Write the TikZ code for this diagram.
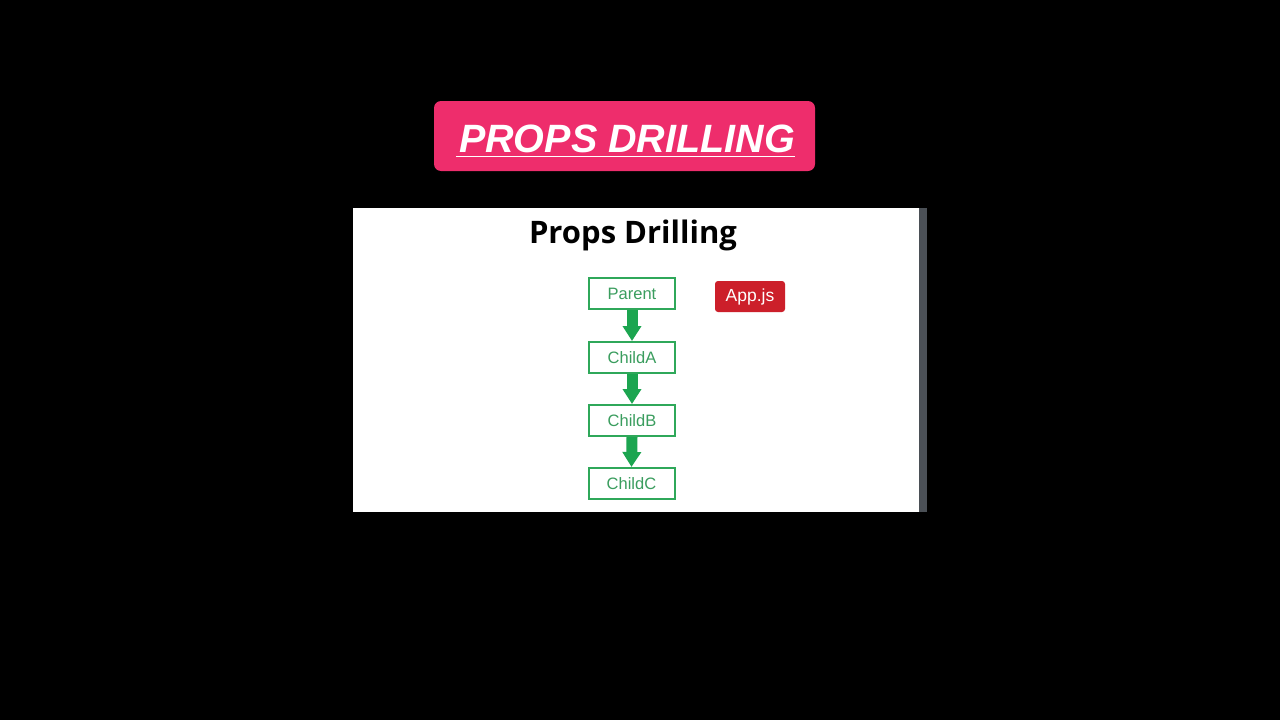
\documentclass[tikz,border=0pt]{standalone}
\usepackage{fontspec}
\setmainfont{Liberation Sans}
\newfontfamily\titlefont{Open Sans}
\usetikzlibrary{arrows.meta}
\definecolor{bannerpink}{HTML}{EE2D6C}
\definecolor{boxgreen}{HTML}{2FA85A}
\definecolor{txtgreen}{HTML}{3A9D5E}
\definecolor{arrgreen}{HTML}{1CA550}
\definecolor{appred}{HTML}{CC1F2A}
\definecolor{stripgray}{HTML}{4B5056}
\begin{document}
\begin{tikzpicture}[x=1pt,y=-1pt,
  compbox/.style={draw=boxgreen, line width=2pt, fill=white, minimum width=86pt, minimum height=31pt, inner sep=0pt, text=txtgreen, font=\fontsize{16.5}{19}\selectfont},
  flowarrow/.style={draw=arrgreen, line width=11pt, -{Triangle[width=18pt,length=15pt]}}]
\fill[black] (0,0) rectangle (1280,720);
\useasboundingbox (0,0) rectangle (1280,720);
% banner
\node[fill=bannerpink, rounded corners=7pt, minimum width=381pt, minimum height=70pt, inner sep=0pt] (banner) at (624.5,136) {};
\node[text=white, font=\fontsize{39.5}{43}\selectfont\bfseries\itshape, inner sep=0pt, anchor=base] (bannertext) at (627,152.5) {PROPS DRILLING};
\draw[white, line width=1.5pt] ([xshift=-3pt,yshift=-4pt]bannertext.base west) -- ([yshift=-4pt]bannertext.base east);
% panel
\fill[white] (353,208) rectangle (919,512);
\fill[stripgray] (919,208) rectangle (927,512);
\node[font=\titlefont\bfseries\fontsize{31}{34}\selectfont, text=black] (title) at (633,235.5) {Props Drilling};
% boxes
\node[compbox] (parent) at (632,293.5) {Parent};
\node[compbox] (childa) at (632,357.5) {ChildA};
\node[compbox] (childb) at (632,420.5) {ChildB};
\node[compbox] (childc) at (631.5,483.5) {ChildC};
\draw[flowarrow] (parent.south) -- (childa.north);
\draw[flowarrow] (childa.south) -- (childb.north);
\draw[flowarrow] (childb.south) -- (childc.north);
\node[fill=appred, rounded corners=3pt, minimum width=70pt, minimum height=31pt, inner sep=0pt,
  text=white, font=\fontsize{17.5}{20}\selectfont] (app) at (750,296.5) {App.js};
\end{tikzpicture}
\end{document}
